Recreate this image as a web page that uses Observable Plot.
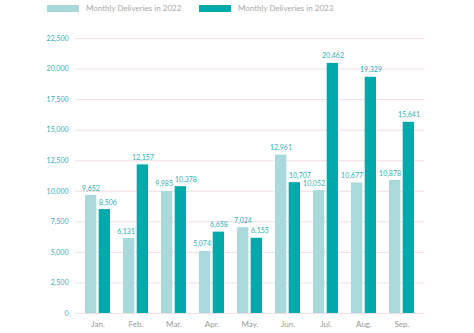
<!DOCTYPE html>
<html><head><meta charset="utf-8">
<script src="https://cdn.jsdelivr.net/npm/d3@7"></script>
<script src="https://cdn.jsdelivr.net/npm/@observablehq/plot@0.6"></script>
<style>
body{margin:0;background:#fff;font-family:Lato,"Noto Sans",sans-serif;}
#legend{position:relative;height:17px;font-size:8px;color:#a9a9a9;}
.sw{position:absolute;top:5px;width:32px;height:7px;}
.lt{position:absolute;top:3px;}
</style></head>
<body>
<div id="legend">
<div class="sw" style="left:47px;background:#a9d9db"></div><div class="lt" style="left:86px">Monthly Deliveries in 2022</div>
<div class="sw" style="left:199px;background:#00aaaa"></div><div class="lt" style="left:238px">Monthly Deliveries in 2023</div>
</div>
<div id="chart"></div>
<script>
const months = ["Jan.","Feb.","Mar.","Apr.","May.","Jun.","Jul.","Aug.","Sep."];
const deliveries2022 = [9652, 6131, 9985, 5074, 7024, 12961, 10052, 10677, 10878];
const deliveries2023 = [8506, 12157, 10378, 6658, 6155, 10707, 20462, 19329, 15641];
const yTicks = [0,2500,5000,7500,10000,12500,15000,17500,20000,22500];

const d22 = months.map((m,i)=>({month:m, value:deliveries2022[i], other:deliveries2023[i]}));
const d23 = months.map((m,i)=>({month:m, value:deliveries2023[i], other:deliveries2022[i]}));
const fmt = d3.format(",");
const light = "#a9d9db", dark = "#00aaaa", labelColor = "#2fb0b0";

// label placement: shift a label away from a taller neighbouring bar or a colliding label
const shift22 = d => d.other > d.value;
const shift23 = d => d.other > d.value || (d.value - d.other) < 1000;
const lbl = {x: "month", y: "value", text: d => fmt(d.value), dy: -5, lineAnchor: "bottom", fill: labelColor, fontSize: 7};

const chart = Plot.plot({
  width: 474, height: 316,
  marginLeft: 75, marginRight: 50, marginTop: 21, marginBottom: 20,
  style: {fontFamily: "Lato, 'Noto Sans', sans-serif", background: "#fff"},
  x: {domain: months, paddingInner: 0.35, paddingOuter: 0.175, label: null},
  y: {domain: [0, 22500], label: null},
  marks: [
    Plot.ruleY(yTicks, {stroke: "#f1dfe2", strokeWidth: 1}),
    Plot.barY(d22, {x: "month", y: "value", fill: light, insetRight: 13.7}),
    Plot.barY(d23, {x: "month", y: "value", fill: dark, insetLeft: 13.7}),
    Plot.text(d22, {...lbl, filter: d => !shift22(d), dx: -7}),
    Plot.text(d22, {...lbl, filter: shift22, dx: -1, textAnchor: "end"}),
    Plot.text(d23, {...lbl, filter: d => !shift23(d), dx: 7}),
    Plot.text(d23, {...lbl, filter: shift23, dx: 1, textAnchor: "start"}),
    Plot.axisY({ticks: yTicks, tickSize: 0, tickPadding: 7, tickFormat: fmt, fill: "#3aaeb6", fontSize: 7}),
    Plot.axisX({tickSize: 0, tickPadding: 8, fill: "#9a9a9a", fontSize: 8})
  ]
});
document.getElementById("chart").appendChild(chart);
</script>
</body></html>
